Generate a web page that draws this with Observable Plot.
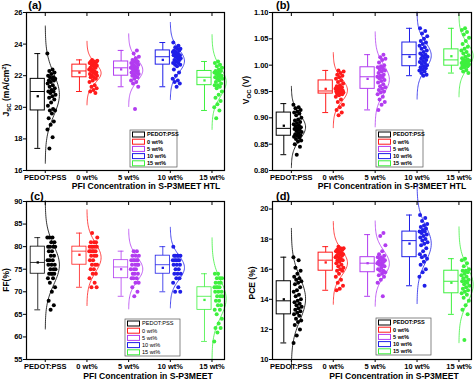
<!DOCTYPE html>
<html><head><meta charset="utf-8">
<script src="https://cdn.jsdelivr.net/npm/d3@7"></script>
<script src="https://cdn.jsdelivr.net/npm/@observablehq/plot@0.6"></script>
<style>
html,body{margin:0;padding:0;background:#fff;}
#wrap{position:relative;width:474px;height:381px;overflow:hidden;font-family:Arial,"Liberation Sans",sans-serif;}
#wrap svg{position:absolute;overflow:visible;}
</style></head><body><div id="wrap"></div>
<script>
const groups = ["PEDOT:PSS", "0 wt%", "5 wt%", "10 wt%", "15 wt%"];
const colors = ["#000000", "#ff1a1a", "#b23cf0", "#1f1fe8", "#3ef03e"];

// box statistics per group: [min, q1, median, q3, max, mean]
const jscStats = [[17.4,19.8,21.0,21.8,23.4,20.7],[21.0,21.9,22.3,22.7,23.0,22.2],[21.3,22.0,22.5,22.9,23.6,22.4],[21.3,22.7,23.2,23.6,24.1,23.0],[19.8,21.4,21.9,22.3,22.9,21.7]];
const vocStats = [[0.830,0.866,0.880,0.910,0.927,0.885],[0.910,0.946,0.951,0.971,0.990,0.955],[0.915,0.955,0.978,0.996,1.020,0.974],[0.980,0.998,1.020,1.043,1.070,1.016],[0.985,0.999,1.010,1.030,1.070,1.017]];
const ffStats = [[66,74,76.5,80,82,76.5],[71,76,79,80,83,78.2],[69,73,75.5,77,79,75],[70,74,76,78,80,75.3],[59,66,69,71,74,68.2]];
const pceStats = [[11.1,13.0,13.9,15.2,16.8,14.0],[14.6,15.9,16.6,17.1,17.5,16.45],[14.2,15.8,16.4,16.8,18.3,16.4],[14.9,16.8,17.9,18.5,19.6,17.7],[13.0,14.4,15.2,15.9,16.7,15.1]];

// individual device values per group
const jscPoints = [
  [23.4,22.4,22.3,22.2,22.1,22.0,21.9,21.9,21.8,21.8,21.7,21.7,21.6,21.5,21.4,21.3,21.2,21.1,21.0,21.0,20.9,20.8,20.7,20.6,20.5,20.3,20.1,19.9,19.8,19.8,19.6,19.3,19.1,18.9,18.6,18.1,17.4],
  [23.0,22.95,22.9,22.9,22.85,22.8,22.8,22.7,22.7,22.65,22.6,22.5,22.5,22.4,22.4,22.3,22.3,22.2,22.2,22.1,22.1,22.0,22.0,21.9,21.9,21.8,21.7,21.6,21.4,21.3,21.2,21.1,21.0,20.9],
  [23.6,23.4,23.2,23.1,23.0,22.9,22.9,22.8,22.8,22.7,22.7,22.6,22.6,22.5,22.5,22.5,22.4,22.4,22.3,22.3,22.2,22.2,22.1,22.1,22.0,22.0,21.9,21.8,21.7,21.6,21.5,21.3,19.9],
  [24.1,23.9,23.8,23.7,23.7,23.6,23.6,23.5,23.5,23.4,23.4,23.3,23.3,23.3,23.2,23.2,23.1,23.1,23.0,23.0,22.9,22.8,22.8,22.7,22.7,22.6,22.4,22.2,22.0,21.8,21.7,21.6,21.5,21.3],
  [22.9,22.8,22.7,22.6,22.5,22.4,22.3,22.3,22.2,22.2,22.1,22.1,22.0,22.0,21.9,21.9,21.8,21.8,21.7,21.6,21.5,21.4,21.4,21.3,21.2,21.0,20.8,20.6,20.4,20.2,20.0,19.8,19.3]
];
const vocPoints = [
  [0.925,0.920,0.918,0.915,0.912,0.910,0.908,0.905,0.900,0.897,0.895,0.892,0.890,0.888,0.886,0.884,0.882,0.880,0.879,0.877,0.875,0.873,0.871,0.869,0.867,0.866,0.864,0.862,0.860,0.857,0.855,0.850,0.845,0.830],
  [0.990,0.988,0.985,0.982,0.980,0.977,0.974,0.971,0.968,0.965,0.962,0.960,0.958,0.956,0.955,0.954,0.953,0.952,0.951,0.950,0.950,0.949,0.948,0.947,0.946,0.945,0.943,0.940,0.935,0.930,0.925,0.920,0.915,0.910,0.905],
  [1.020,1.015,1.012,1.010,1.005,1.000,0.998,0.996,0.994,0.992,0.990,0.988,0.985,0.982,0.980,0.978,0.977,0.975,0.972,0.970,0.967,0.964,0.960,0.958,0.955,0.953,0.950,0.948,0.945,0.940,0.935,0.930,0.925,0.915],
  [1.070,1.065,1.060,1.055,1.050,1.046,1.043,1.040,1.037,1.034,1.031,1.028,1.025,1.022,1.020,1.018,1.016,1.014,1.012,1.010,1.008,1.006,1.004,1.002,1.000,0.998,0.996,0.994,0.992,0.990,0.988,0.985,0.982,0.980],
  [1.070,1.067,1.063,1.058,1.052,1.046,1.040,1.035,1.031,1.028,1.025,1.022,1.019,1.016,1.013,1.011,1.010,1.009,1.008,1.007,1.006,1.005,1.004,1.003,1.002,1.001,1.000,0.999,0.998,0.996,0.994,0.991,0.988,0.985]
];
const ffPoints = [
  [82,82,82,81,81,80,80,80,80,79,79,78,78,77,77,77,76,76,76,75,75,75,74,74,74,74,73,73,72,71,70,68,67,66],
  [83,82,81,81,81,80,80,80,80,80,79,79,79,79,79,78,78,78,77,77,76,76,76,75,75,74,74,73,72,71,71],
  [79,79,78,78,78,77,77,77,77,77,76,76,76,76,75,75,75,74,74,74,73,73,73,72,72,71,70,69],
  [80,78,78,78,78,78,77,77,77,77,77,76,76,76,75,75,74,74,74,73,73,72,71,70,70],
  [74,74,73,73,73,72,72,72,71,71,71,71,70,70,70,69,69,69,68,68,67,67,66,66,65,64,63,62,62,61,59]
];
const pcePoints = [
  [16.8,16.6,16.1,15.9,15.7,15.5,15.4,15.3,15.2,15.1,15.0,14.8,14.6,14.5,14.3,14.2,14.0,13.9,13.8,13.7,13.6,13.5,13.4,13.3,13.2,13.1,13.0,12.9,12.7,12.6,12.5,12.3,12.0,11.6,11.1],
  [17.5,17.4,17.4,17.3,17.3,17.2,17.2,17.1,17.1,17.0,17.0,16.9,16.9,16.8,16.8,16.7,16.6,16.6,16.5,16.4,16.3,16.2,16.1,16.0,15.9,15.9,15.7,15.5,15.3,15.1,14.9,14.7,14.6],
  [18.4,18.2,17.6,17.2,17.0,16.9,16.8,16.8,16.7,16.7,16.6,16.6,16.5,16.5,16.4,16.4,16.3,16.3,16.2,16.1,16.0,15.9,15.9,15.8,15.7,15.6,15.5,15.3,15.1,14.2],
  [19.6,19.4,19.2,19.0,18.9,18.8,18.7,18.6,18.5,18.5,18.4,18.3,18.2,18.1,18.0,17.9,17.8,17.7,17.6,17.4,17.2,17.0,16.9,16.8,16.7,16.5,16.3,16.0,15.8,15.5,14.9],
  [16.7,16.6,16.4,16.2,16.0,15.9,15.9,15.8,15.7,15.6,15.5,15.4,15.3,15.2,15.2,15.1,15.0,14.9,14.8,14.7,14.6,14.5,14.4,14.3,14.1,13.9,13.6,13.3,13.0,11.3]
];

const jscTicks = [16, 18, 20, 22, 24, 26];
const vocTicks = [0.80, 0.85, 0.90, 0.95, 1.00, 1.05, 1.10];
const ffTicks = [55, 60, 65, 70, 75, 80, 85, 90];
const pceTicks = [10, 12, 14, 16, 18, 20];

const FONT = 'Arial, "Liberation Sans", sans-serif';
const wrap = document.getElementById("wrap");

function build(cfg) {
  const boxes = cfg.stats.map((s, g) => ({g, c: g + 1, min: s[0], q1: s[1], med: s[2], q3: s[3], max: s[4], mean: s[5]}));
  const pts = [];
  cfg.points.forEach((arr, g) => arr.forEach((v, i) => {
    const f = ((i * 0.6180339 + g * 0.37) % 1);
    pts.push({g, v, x: g + 1 + 0.05 + 0.2 * f});
  }));
  const curves = [];
  cfg.points.forEach((arr, g) => {
    const m = d3.mean(arr), sd = d3.deviation(arr);
    for (let z = -3.3; z <= 3.301; z += 0.1) {
      curves.push({g, x: g + 1 + 0.34 * Math.exp(-0.5 * z * z), y: m + z * sd});
    }
  });
  const BL = 0.35, BR = 0.01, BC = (BL + BR) / 2;
  const sw = cfg.sw || 1;
  const plot = Plot.plot({
    width: cfg.w, height: cfg.h,
    marginLeft: cfg.ml, marginRight: cfg.mr, marginTop: cfg.mt, marginBottom: cfg.mb,
    style: {fontFamily: FONT, fontSize: "7.5px", fontWeight: "bold", color: "#000", background: "transparent", overflow: "visible"},
    x: {domain: [0.55, 5.3], axis: null},
    y: {domain: cfg.ydomain, axis: null},
    color: {type: "identity"},
    marks: [
      Plot.rect(boxes, {x1: d => d.c - BL, x2: d => d.c - BR, y1: "q1", y2: "q3", stroke: d => colors[d.g], fill: "none", strokeWidth: sw}),
      Plot.ruleY(boxes, {y: "med", x1: d => d.c - BL, x2: d => d.c - BR, stroke: d => colors[d.g], strokeWidth: sw}),
      Plot.ruleX(boxes, {x: d => d.c - BC, y1: "min", y2: "q1", stroke: d => colors[d.g], strokeWidth: sw}),
      Plot.ruleX(boxes, {x: d => d.c - BC, y1: "q3", y2: "max", stroke: d => colors[d.g], strokeWidth: sw}),
      Plot.ruleY(boxes, {y: "min", x1: d => d.c - BC - 0.07, x2: d => d.c - BC + 0.07, stroke: d => colors[d.g], strokeWidth: sw}),
      Plot.ruleY(boxes, {y: "max", x1: d => d.c - BC - 0.07, x2: d => d.c - BC + 0.07, stroke: d => colors[d.g], strokeWidth: sw}),
      Plot.dot(boxes, {x: d => d.c - BC, y: "mean", symbol: "square", r: 1.3, fill: d => colors[d.g], stroke: "none"}),
      Plot.line(curves, {x: "x", y: "y", z: "g", stroke: d => colors[d.g], strokeWidth: 0.8, curve: "basis"}),
      Plot.dot(pts, {x: "x", y: "v", r: 2, fill: d => colors[d.g], stroke: "none"}),
      Plot.frame({stroke: "#000", strokeWidth: 1.2}),
      Plot.axisY({ticks: cfg.yticks, tickFormat: cfg.yfmt, tickSize: 3, tickPadding: 1, label: null, fontSize: 7.5, fontWeight: "bold"}),
      Plot.axisX({ticks: [1, 2, 3, 4, 5], tickFormat: i => groups[i - 1], tickSize: 3, tickPadding: 1.5, label: null, fontSize: 7.5, fontWeight: "bold"}),
      Plot.axisX({anchor: "top", ticks: [1, 2, 3, 4, 5], tickFormat: () => "", tickSize: -3, label: null})
    ]
  });
  plot.style.left = cfg.left + "px";
  plot.style.top = cfg.top + "px";
  wrap.appendChild(plot);
  const svg = d3.select(plot);
  // panel tag
  svg.append("text").attr("x", cfg.tagX).attr("y", cfg.tagY).attr("text-anchor", "middle")
    .attr("font-size", 11).attr("font-weight", "bold").attr("font-family", FONT).text(cfg.tag);
  // y label
  const yl = svg.append("text").attr("transform", `translate(${cfg.ylX},${cfg.ylY}) rotate(-90)`)
    .attr("text-anchor", "middle").attr("font-size", 8.5).attr("font-weight", "bold").attr("font-family", FONT);
  cfg.ylabel.forEach(p => {
    const t = yl.append("tspan").text(p.t);
    if (p.sub) t.attr("font-size", 6).attr("dy", 2);
    else if (p.sup) t.attr("font-size", 6).attr("dy", -3.5);
    else if (p.back) t.attr("dy", p.back);
  });
  // x title
  svg.append("text").attr("x", cfg.xtX).attr("y", cfg.xtY).attr("text-anchor", "middle")
    .attr("font-size", 8.6).attr("font-weight", "bold").attr("font-family", FONT).text(cfg.xtitle);
  // legend
  const L = cfg.legend;
  const lg = svg.append("g").attr("transform", `translate(${L.x},${L.y})`);
  lg.append("rect").attr("width", L.w).attr("height", 37).attr("fill", "white").attr("stroke", "#555").attr("stroke-width", 0.7);
  groups.forEach((name, i) => {
    lg.append("rect").attr("x", 2.5).attr("y", 2 + i * 7.2).attr("width", 12).attr("height", 5)
      .attr("fill", "white").attr("stroke", colors[i]).attr("stroke-width", 1);
    lg.append("text").attr("x", 17).attr("y", 4.5 + i * 7.2).attr("dy", "0.35em").attr("text-anchor", "start")
      .attr("font-size", 5.6).attr("font-weight", L.bold ? "bold" : "normal").attr("font-family", FONT).text(name);
  });
}

build({left: 0, top: 0, w: 237, h: 190, ml: 26, mr: 13, mt: 12, mb: 20,
  ydomain: [16, 26], yticks: jscTicks, yfmt: d3.format("d"), stats: jscStats, points: jscPoints,
  tag: "(a)", tagX: 35, tagY: 9, ylX: 9, ylY: 90,
  ylabel: [{t: "J"}, {t: "SC", sub: true}, {t: " (mA/cm", back: -2}, {t: "2", sup: true}, {t: ")", back: 3.5}],
  xtitle: "PFI Concentration in S-P3MEET HTL", xtX: 146, xtY: 189,
  legend: {x: 130, y: 130, w: 47, bold: true}});

build({left: 237, top: 0, w: 237, h: 190, ml: 35, mr: 3, mt: 12, mb: 20,
  ydomain: [0.8, 1.1], yticks: vocTicks, yfmt: d3.format(".2f"), stats: vocStats, points: vocPoints,
  tag: "(b)", tagX: 46, tagY: 9, ylX: 12, ylY: 90,
  ylabel: [{t: "V"}, {t: "OC", sub: true}, {t: " (V)", back: -2}],
  xtitle: "PFI Concentration in S-P3MEET HTL", xtX: 155, xtY: 189,
  legend: {x: 139, y: 130, w: 47, bold: true}});

build({left: 0, top: 190, w: 237, h: 191, ml: 26, mr: 13, mt: 11, mb: 22,
  ydomain: [55, 90], yticks: ffTicks, yfmt: d3.format("d"), stats: ffStats, points: ffPoints, sw: 0.8,
  tag: "(c)", tagX: 37, tagY: 10, ylX: 9, ylY: 90,
  ylabel: [{t: "FF(%)"}],
  xtitle: "PFI Concentration in S-P3MEET", xtX: 148, xtY: 189,
  legend: {x: 125, y: 129, w: 55, bold: false}});

build({left: 237, top: 190, w: 237, h: 191, ml: 35, mr: 3, mt: 11, mb: 22,
  ydomain: [10, 20.5], yticks: pceTicks, yfmt: d3.format("d"), stats: pceStats, points: pcePoints,
  tag: "(d)", tagX: 46, tagY: 10, ylX: 18, ylY: 93,
  ylabel: [{t: "PCE (%)"}],
  xtitle: "PFI Concentration in S-P3MEET", xtX: 157, xtY: 189,
  legend: {x: 139, y: 128, w: 55, bold: true}});
</script>
</body></html>
